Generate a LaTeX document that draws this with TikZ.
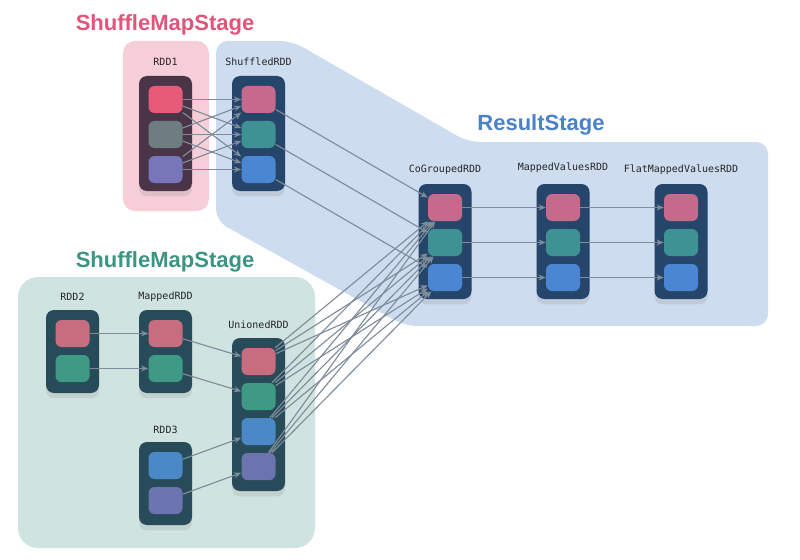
\documentclass[tikz,border=0pt]{standalone}
\usepackage{fontspec}
\setmainfont{Liberation Sans}
\newfontfamily\monof{DejaVu Sans Mono}
\usetikzlibrary{arrows.meta,shadows}
\definecolor{regPink}{HTML}{F6CED8}
\definecolor{regBlue}{HTML}{CDDCEE}
\definecolor{regGreen}{HTML}{CFE3E0}
\definecolor{tPink}{HTML}{E2557A}
\definecolor{tGreen}{HTML}{3B9582}
\definecolor{tBlue}{HTML}{4A82C9}
\definecolor{cPink}{HTML}{4A3448}
\definecolor{cBlue}{HTML}{26456A}
\definecolor{cGreen}{HTML}{274B58}
\definecolor{pRed}{HTML}{E85B78}
\definecolor{pGrey}{HTML}{6E7E80}
\definecolor{pLav}{HTML}{7676B8}
\definecolor{pRose}{HTML}{C66A8C}
\definecolor{pTeal}{HTML}{3F9294}
\definecolor{pBlue}{HTML}{4A86D1}
\definecolor{pRose2}{HTML}{C86C80}
\definecolor{pGreen}{HTML}{3E9A85}
\definecolor{pBlue2}{HTML}{4A88C8}
\definecolor{pPurp}{HTML}{6C74B0}
\definecolor{arrC}{HTML}{7F8C99}
\tikzset{
  part/.style={rounded corners=4.5pt, minimum width=25.5pt, minimum height=20.25pt, inner sep=0pt},
  cont/.style={rounded corners=6pt, minimum width=39.75pt, inner sep=0pt,
    drop shadow={opacity=0.18, shadow xshift=0pt, shadow yshift=-4pt}},
  lbl/.style={font=\monof\fontsize{7.5}{8}\selectfont, text=black!85},
  ttl/.style={font=\bfseries\fontsize{16.5}{18}\selectfont},
  arr/.style={draw=arrC, line width=0.85pt, -{Stealth[length=5.5pt,width=4.5pt]}},
}
\begin{document}
\begin{tikzpicture}[x=0.75pt,y=-0.75pt]
\useasboundingbox (0,0) rectangle (800,560);
% regions
\fill[regBlue, rounded corners=9pt] (216,41) -- (292,41) -- (468,142) -- (768,142) -- (768,326) -- (405,326) -- (216,221) -- cycle;
\fill[regPink, rounded corners=9pt] (123,41) rectangle (209,211);
\fill[regGreen, rounded corners=15pt] (18,277) rectangle (315,548);
% titles
\node[ttl, text=tPink] (t1) at (165,25) {ShuffleMapStage};
\node[ttl, text=tGreen] (t2) at (165,262) {ShuffleMapStage};
\node[ttl, text=tBlue] (t3) at (541,125) {ResultStage};
% labels
\node[lbl] (l1) at (165.5,62) {RDD1};
\node[lbl] (l2) at (258.5,62) {ShuffledRDD};
\node[lbl] (l3) at (445,170) {CoGroupedRDD};
\node[lbl] (l4) at (563,168) {MappedValuesRDD};
\node[lbl] (l5) at (681,170) {FlatMappedValuesRDD};
\node[lbl] (l6) at (72.5,297) {RDD2};
\node[lbl] (l7) at (165.5,297) {MappedRDD};
\node[lbl] (l8) at (258.5,325) {UnionedRDD};
\node[lbl] (l9) at (165.5,430) {RDD3};
% containers
\node[cont, fill=cPink, minimum height=86.25pt] (C1) at (165.5,133.5) {};
\node[cont, fill=cBlue, minimum height=86.25pt] (C2) at (258.5,133.5) {};
\node[cont, fill=cBlue, minimum height=86.25pt] (C3) at (445,241.5) {};
\node[cont, fill=cBlue, minimum height=86.25pt] (C4) at (563,241.5) {};
\node[cont, fill=cBlue, minimum height=86.25pt] (C5) at (681,241.5) {};
\node[cont, fill=cGreen, minimum height=62.25pt] (C6) at (72.5,351.5) {};
\node[cont, fill=cGreen, minimum height=62.25pt] (C7) at (165.5,351.5) {};
\node[cont, fill=cGreen, minimum height=114.75pt] (C8) at (258.5,414.5) {};
\node[cont, fill=cGreen, minimum height=62.25pt] (C9) at (165.5,483.5) {};
% partitions
\node[part, fill=pRed] (a1) at (165.5,99.5) {};
\node[part, fill=pGrey] (a2) at (165.5,134.5) {};
\node[part, fill=pLav] (a3) at (165.5,169.5) {};
\node[part, fill=pRose] (b1) at (258.5,99.5) {};
\node[part, fill=pTeal] (b2) at (258.5,134.5) {};
\node[part, fill=pBlue] (b3) at (258.5,169.5) {};
\node[part, fill=pRose] (c1) at (445,207.5) {};
\node[part, fill=pTeal] (c2) at (445,242.5) {};
\node[part, fill=pBlue] (c3) at (445,277.5) {};
\node[part, fill=pRose] (d1) at (563,207.5) {};
\node[part, fill=pTeal] (d2) at (563,242.5) {};
\node[part, fill=pBlue] (d3) at (563,277.5) {};
\node[part, fill=pRose] (e1) at (681,207.5) {};
\node[part, fill=pTeal] (e2) at (681,242.5) {};
\node[part, fill=pBlue] (e3) at (681,277.5) {};
\node[part, fill=pRose2] (f1) at (72.5,333.5) {};
\node[part, fill=pGreen] (f2) at (72.5,368.5) {};
\node[part, fill=pRose2] (g1) at (165.5,333.5) {};
\node[part, fill=pGreen] (g2) at (165.5,368.5) {};
\node[part, fill=pRose2] (u1) at (258.5,361.5) {};
\node[part, fill=pGreen] (u2) at (258.5,396.5) {};
\node[part, fill=pBlue2] (u3) at (258.5,431.5) {};
\node[part, fill=pPurp] (u4) at (258.5,466.5) {};
\node[part, fill=pBlue2] (h1) at (165.5,465.5) {};
\node[part, fill=pPurp] (h2) at (165.5,500.5) {};
% arrows
\foreach \s in {a1,a2,a3}{\foreach \t in {b1,b2,b3}{\draw[arr] (\s) -- (\t);}}
\foreach \s/\t in {b1/c1,b2/c2,b3/c3,c1/d1,c2/d2,c3/d3,d1/e1,d2/e2,d3/e3,f1/g1,f2/g2,g1/u1,g2/u2,h1/u3,h2/u4}{\draw[arr] (\s) -- (\t);}
\foreach \s in {u1,u2,u3,u4}{\foreach \t in {c1,c2,c3}{\draw[arr] (\s) -- (\t);}}
\end{tikzpicture}
\end{document}
